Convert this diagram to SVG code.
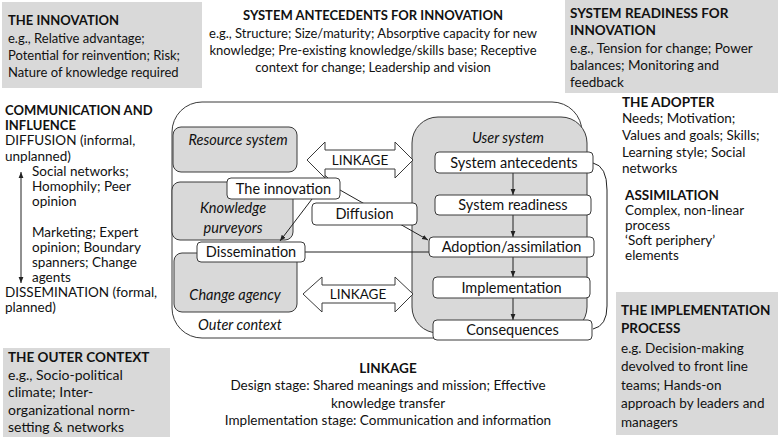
<svg xmlns="http://www.w3.org/2000/svg" width="778" height="438" viewBox="0 0 778 438">
<defs>
<marker id="ah" viewBox="0 0 10 10" refX="10" refY="5" markerWidth="6" markerHeight="6" orient="auto-start-reverse" markerUnits="userSpaceOnUse">
<path d="M0,1 L10,5 L0,9 z" fill="#222"/>
</marker>
</defs>
<style>
text{font-family:Lato,"Open Sans","DejaVu Sans",sans-serif;fill:#111;}
.t{font-size:13.5px;}
.s{font-size:13px;}
.b{font-weight:bold;}
.c{text-anchor:middle;}
.i{font-style:italic;}
.d{font-size:14.5px;}
.k{font-size:13.5px;}
.gbox{fill:#d9d9d9;stroke:none;}
.gnode{fill:#d9d9d9;stroke:#3a3a3a;stroke-width:1;}
.wnode{fill:#fff;stroke:#3a3a3a;stroke-width:1;}
.ln{stroke:#222;stroke-width:1;fill:none;}
.arw{fill:#fff;stroke:#3a3a3a;stroke-width:1;}
</style>
<rect width="778" height="438" fill="#fff"/>

<g id="innovation-info">
<rect class="gbox" x="2" y="2" width="200" height="86"/>
<text class="s b" x="8" y="24.5">THE INNOVATION</text>
<text class="s" x="8" y="42.5">e.g., Relative advantage;</text>
<text class="s" x="8" y="59.5">Potential for reinvention; Risk;</text>
<text class="s" x="8" y="76.5">Nature of knowledge required</text>
</g>

<g id="antecedents-info">
<text class="s b c" x="373" y="19.5">SYSTEM ANTECEDENTS FOR INNOVATION</text>
<text class="s c" x="373" y="37.5">e.g., Structure; Size/maturity; Absorptive capacity for new</text>
<text class="s c" x="373" y="54.5">knowledge; Pre-existing knowledge/skills base; Receptive</text>
<text class="s c" x="373" y="71.5">context for change; Leadership and vision</text>
</g>

<g id="readiness-info">
<rect class="gbox" x="565" y="0" width="213" height="93"/>
<text class="t b" x="570" y="17.5">SYSTEM READINESS FOR</text>
<text class="t b" x="570" y="34.5">INNOVATION</text>
<text class="t" x="570" y="52.5">e.g., Tension for change; Power</text>
<text class="t" x="570" y="69.5">balances; Monitoring and</text>
<text class="t" x="570" y="86.5">feedback</text>
</g>

<g id="adopter-info">
<text class="t b" x="622" y="106.5">THE ADOPTER</text>
<text class="t" x="622" y="122.5">Needs; Motivation;</text>
<text class="t" x="622" y="139.5">Values and goals; Skills;</text>
<text class="t" x="622" y="156.5">Learning style; Social</text>
<text class="t" x="622" y="172.5">networks</text>
</g>

<g id="assimilation-info">
<text class="t b" x="625" y="199.5">ASSIMILATION</text>
<text class="t" x="625" y="214.5">Complex, non-linear</text>
<text class="t" x="625" y="229.5">process</text>
<text class="t" x="625" y="244.5">‘Soft periphery’</text>
<text class="t" x="625" y="259.5">elements</text>
</g>

<g id="implementation-info">
<rect class="gbox" x="616" y="292" width="162" height="143"/>
<text class="t b" x="621" y="314.5">THE IMPLEMENTATION</text>
<text class="t b" x="621" y="332.5">PROCESS</text>
<text class="t" x="621" y="352.5">e.g. Decision-making</text>
<text class="t" x="621" y="370.5">devolved to front line</text>
<text class="t" x="621" y="389.5">teams; Hands-on</text>
<text class="t" x="621" y="407.5">approach by leaders and</text>
<text class="t" x="621" y="426.5">managers</text>
</g>

<g id="outer-context-info">
<rect class="gbox" x="3" y="348" width="167" height="89"/>
<text class="t b" x="8" y="361.5">THE OUTER CONTEXT</text>
<text class="t" x="8" y="379.5" style="font-size:14px">e.g., Socio-political</text>
<text class="t" x="8" y="396.5" style="font-size:14px">climate; Inter-</text>
<text class="t" x="8" y="414.5" style="font-size:14px">organizational norm-</text>
<text class="t" x="8" y="431.5" style="font-size:14px">setting &amp; networks</text>
</g>

<g id="linkage-info">
<text class="t b c" x="388" y="372.5">LINKAGE</text>
<text class="t c" x="388" y="389.5">Design stage: Shared meanings and mission; Effective</text>
<text class="t c" x="388" y="407.5">knowledge transfer</text>
<text class="t c" x="388" y="424.5">Implementation stage: Communication and information</text>
</g>

<g id="communication-info">
<text class="s b" x="5" y="114.5">COMMUNICATION AND</text>
<text class="s b" x="5" y="129.5">INFLUENCE</text>
<text class="t" x="5" y="145">DIFFUSION (informal,</text>
<text class="t" x="5" y="160.5">unplanned)</text>
<text class="t" x="32" y="175.5">Social networks;</text>
<text class="t" x="32" y="190.5">Homophily; Peer</text>
<text class="t" x="32" y="206">opinion</text>
<text class="t" x="32" y="236.5">Marketing; Expert</text>
<text class="t" x="32" y="251.5">opinion; Boundary</text>
<text class="t" x="32" y="266.5">spanners; Change</text>
<text class="t" x="32" y="281.5">agents</text>
<text class="t" x="5" y="296.5">DISSEMINATION (formal,</text>
<text class="t" x="5" y="311.5">planned)</text>
<line class="ln" x1="21" y1="172" x2="21" y2="283" marker-start="url(#ah)" marker-end="url(#ah)"/>
</g>

<g id="outer-context">
<rect x="172" y="102" width="410" height="236" rx="30" ry="30" fill="#fff" stroke="#3a3a3a" stroke-width="1"/>
<text class="d i" x="198" y="330">Outer context</text>
</g>

<g id="user-system">
<rect class="gnode" x="412" y="117" width="175" height="216" rx="26" ry="26"/>
<text class="d i c" x="508" y="143">User system</text>
</g>

<g id="resource-system">
<rect class="gnode" x="173" y="127" width="124" height="45" rx="8" ry="8"/>
<text class="d i c" x="238" y="145">Resource system</text>
</g>

<g id="knowledge-purveyors">
<rect class="gnode" x="172" y="182" width="121" height="58" rx="8" ry="8"/>
<text class="d i c" x="233" y="213">Knowledge</text>
<text class="d i c" x="233" y="233">purveyors</text>
</g>

<g id="change-agency">
<rect class="gnode" x="174" y="253" width="123" height="59" rx="8" ry="8"/>
<text class="d i c" x="235" y="300">Change agency</text>
</g>

<g id="connectors">
<path class="ln" d="M593,163 Q607,166 607,190 L607,306 Q607,326 593,329"/>
<line class="ln" x1="307" y1="160" x2="328" y2="178"/>
<line class="ln" x1="340" y1="190" x2="428" y2="240" marker-end="url(#ah)"/>
<line class="ln" x1="312" y1="199" x2="280" y2="241" marker-end="url(#ah)"/>
<line class="ln" x1="305" y1="252" x2="429" y2="252"/>
<line class="ln" x1="513" y1="173" x2="513" y2="195" marker-end="url(#ah)"/>
<line class="ln" x1="513" y1="215" x2="513" y2="237" marker-end="url(#ah)"/>
<line class="ln" x1="513" y1="257" x2="513" y2="277" marker-end="url(#ah)"/>
<line class="ln" x1="513" y1="298" x2="513" y2="320" marker-end="url(#ah)"/>
<path class="arw" d="M307,160 L325,142 L325,150 L395,150 L395,142 L413,160 L395,178 L395,169 L325,169 L325,178 Z"/>
<path class="arw" d="M303,294 L322,277 L322,285 L395,285 L395,277 L413,294 L395,312 L395,303 L322,303 L322,312 Z"/>
</g>

<g id="linkage-top">
<text class="k c" x="360" y="165">LINKAGE</text>
</g>
<g id="linkage-bottom">
<text class="k c" x="358" y="299">LINKAGE</text>
</g>

<g id="the-innovation">
<rect class="wnode" x="227" y="178" width="113" height="21" rx="4" ry="4"/>
<text class="d c" x="283.5" y="193.5">The innovation</text>
</g>
<g id="diffusion">
<rect class="wnode" x="312" y="203" width="105" height="22" rx="4" ry="4"/>
<text class="d c" x="364.5" y="219">Diffusion</text>
</g>
<g id="dissemination">
<rect class="wnode" x="197" y="242" width="108" height="20" rx="4" ry="4"/>
<text class="d c" x="251" y="257">Dissemination</text>
</g>

<g id="system-antecedents">
<rect class="wnode" x="435" y="152" width="158" height="21" rx="4" ry="4"/>
<text class="d c" x="514" y="167.5">System antecedents</text>
</g>
<g id="system-readiness">
<rect class="wnode" x="435" y="195" width="156" height="20" rx="4" ry="4"/>
<text class="d c" x="513" y="210">System readiness</text>
</g>
<g id="adoption">
<rect class="wnode" x="429" y="237" width="165" height="20" rx="4" ry="4"/>
<text class="d c" x="511.5" y="252">Adoption/assimilation</text>
</g>
<g id="implementation">
<rect class="wnode" x="433" y="277" width="157" height="21" rx="4" ry="4"/>
<text class="d c" x="511.5" y="292.5">Implementation</text>
</g>
<g id="consequences">
<rect class="wnode" x="433" y="320" width="159" height="20" rx="4" ry="4"/>
<text class="d c" x="512.5" y="335">Consequences</text>
</g>
</svg>
